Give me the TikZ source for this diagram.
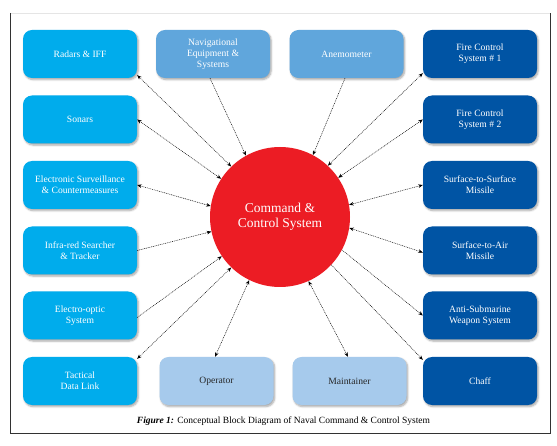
\documentclass[tikz,border=0pt]{standalone}
\usepackage{fontspec}
\setmainfont{Liberation Serif}
\usetikzlibrary{arrows.meta,shadows.blur}
\definecolor{cyanb}{RGB}{0,172,236}
\definecolor{midb}{RGB}{96,166,220}
\definecolor{darkb}{RGB}{0,84,164}
\definecolor{lightb}{RGB}{166,202,236}
\definecolor{redc}{RGB}{236,28,36}
\definecolor{framec}{RGB}{50,50,50}
\begin{document}
\begin{tikzpicture}[x=1pt,y=-1pt,
  box/.style={rounded corners=9pt, minimum width=114pt, minimum height=48pt, inner sep=0pt,
    align=center, font=\fontsize{9.6}{11}\selectfont, text=white,
    blur shadow={shadow xshift=1.2pt, shadow yshift=-1.6pt, shadow blur steps=6, shadow opacity=35}},
  cyanbox/.style={box, fill=cyanb},
  midbox/.style={box, fill=midb},
  darkbox/.style={box, fill=darkb},
  lightbox/.style={box, fill=lightb, text=black!85},
  link/.style={line width=0.5pt, dash pattern=on 0.9pt off 0.9pt,
    >={Stealth[length=4.5pt,width=3.6pt]}},
  hub/.style={circle, fill=redc, minimum size=140pt, inner sep=0pt, align=center,
    text=white, font=\fontsize{13.5}{14.5}\selectfont}
]
\useasboundingbox (0,0) rectangle (557,446);
% frame
\draw[black!10, line width=0.6pt] (10,13) -- (550,13);
\draw[framec, line width=0.9pt] (10,13) -- (10,433) -- (550,433) -- (550,13);

% left column
\node[cyanbox] (rad) at (80,54) {Radars \& IFF};
\node[cyanbox] (son) at (80,119.5) {Sonars};
\node[cyanbox] (es) at (80,185) {Electronic Surveillance\\\& Countermeasures};
\node[cyanbox] (ir) at (80,250.5) {Infra-red Searcher\\\& Tracker};
\node[cyanbox] (eo) at (80,315.5) {Electro-optic\\System};
\node[cyanbox] (tdl) at (80,381) {Tactical\\Data Link};
% top middle
\node[midbox] (nav) at (213,54) {Navigational\\Equipment \&\\Systems};
\node[midbox] (anem) at (346.5,54) {Anemometer};
% right column
\node[darkbox] (fc1) at (480,54) {Fire Control\\System \# 1};
\node[darkbox] (fc2) at (480,119.5) {Fire Control\\System \# 2};
\node[darkbox] (ssm) at (480,185) {Surface-to-Surface\\Missile};
\node[darkbox] (sam) at (480,250.5) {Surface-to-Air\\Missile};
\node[darkbox] (asw) at (480,315.5) {Anti-Submarine\\Weapon System};
\node[darkbox] (chaff) at (480,381) {Chaff};
% bottom middle
\node[lightbox] (op) at (216.5,381) {Operator};
\node[lightbox] (mnt) at (349.5,381) {Maintainer};

% hub
\node[hub] (c) at (280,217) {Command \&\\Control System};

% connectors
\draw[link,<->] ([yshift=3pt]rad.south east) -- (c.134);
\draw[link,<->] (son.east) -- (c.147);
\draw[link,<->] (es.east) -- (c.171);
\draw[link,->] (ir.east) -- (c.192);
\draw[link,->] ([yshift=-2pt]eo.east) -- (c.214);
\draw[link,<->] ([yshift=-2pt]tdl.north east) -- (c.226);
\draw[link,->] ([xshift=-3pt]nav.south) -- (c.119);
\draw[link,->] ([xshift=-1.5pt]anem.south) -- (c.62);
\draw[link,<->] ([yshift=5pt]fc1.south west) -- (c.47);
\draw[link,<->] (fc2.west) -- (c.34);
\draw[link,<->] (ssm.west) -- (c.10);
\draw[link,<->] ([yshift=-2pt]sam.west) -- (c.-9);
\draw[link,->] (c.-28) -- (asw.west);
\draw[link,->] (c.-43) -- ([yshift=-3pt]chaff.north west);
\draw[link,<->] ([xshift=-1.5pt]op.north) -- (c.244);
\draw[link,<->] ([xshift=-1.5pt]mnt.north) -- (c.-66);

% caption
\node[font=\fontsize{9.5}{11}\selectfont, inner sep=0pt] (cap) at (283.5,421)
  {\textbf{\textit{Figure 1:}} Conceptual Block Diagram of Naval Command \& Control System};
\end{tikzpicture}
\end{document}
